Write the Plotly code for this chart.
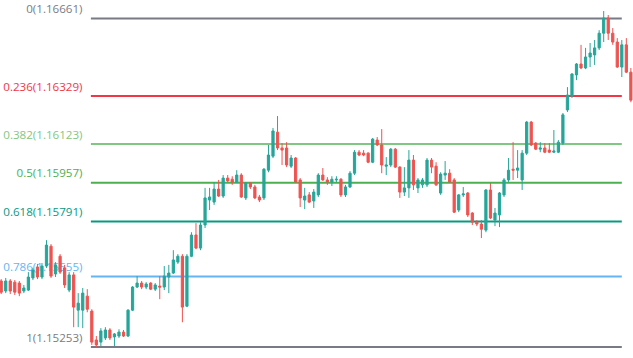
import plotly.graph_objects as go

# ---------------- data (EUR/USD-like candles) ----------------
open_ = [1.15536,1.15493,1.15536,1.15531,1.15527,1.15493,1.15497,1.15549,1.15596,1.15553,
         1.15600,1.15685,1.15566,1.15642,1.15592,1.15497,1.15562,1.15411,1.15411,1.15471,
         1.15407,1.15283,1.15274,1.15292,1.15326,1.15296,1.15300,1.15317,1.15300,1.15411,
         1.15510,1.15527,1.15510,1.15527,1.15501,1.15514,1.15510,1.15553,1.15570,1.15617,
         1.15642,1.15428,1.15642,1.15733,1.15677,1.15776,1.15883,1.15874,1.15930,1.15900,
         1.15977,1.15972,1.15960,1.15990,1.15892,1.15956,1.15939,1.15896,1.15892,1.16011,
         1.16071,1.16174,1.16106,1.16106,1.16028,1.16063,1.15969,1.15883,1.15905,1.15879,
         1.15905,1.15990,1.15969,1.15960,1.15969,1.15972,1.15905,1.15939,1.15998,1.16088,
         1.16084,1.16084,1.16045,1.16140,1.16119,1.16028,1.16033,1.16101,1.16024,1.15917,
         1.15935,1.16054,1.15935,1.15948,1.15948,1.16054,1.16028,1.15913,1.15990,1.15998,
         1.15969,1.15840,1.15905,1.15913,1.15827,1.15788,1.15780,1.15754,1.15926,1.15797,
         1.15819,1.15905,1.15969,1.16015,1.16011,1.15969,1.16084,1.16217,1.16127,1.16101,
         1.16106,1.16097,1.16088,1.16088,1.16127,1.16269,1.16328,1.16419,1.16466,1.16449,
         1.16496,1.16505,1.16535,1.16598,1.16663,1.16598,1.16560,1.16453,1.16548,1.16431]
high = [1.15544,1.15549,1.15544,1.15540,1.15536,1.15519,1.15574,1.15592,1.15609,1.15613,
        1.15711,1.15694,1.15617,1.15651,1.15605,1.15574,1.15574,1.15484,1.15506,1.15501,
        1.15415,1.15300,1.15334,1.15338,1.15334,1.15313,1.15329,1.15326,1.15415,1.15514,
        1.15557,1.15536,1.15531,1.15531,1.15527,1.15557,1.15600,1.15605,1.15668,1.15651,
        1.15651,1.15651,1.15745,1.15784,1.15788,1.15935,1.15935,1.15960,1.15969,1.15990,
        1.15990,1.15985,1.16011,1.15998,1.15960,1.15960,1.15948,1.15905,1.16020,1.16119,
        1.16192,1.16243,1.16127,1.16131,1.16076,1.16067,1.15977,1.15935,1.15917,1.15930,
        1.15998,1.16020,1.15981,1.15985,1.15985,1.15977,1.15948,1.16007,1.16097,1.16097,
        1.16097,1.16088,1.16149,1.16153,1.16187,1.16067,1.16106,1.16106,1.16028,1.16024,
        1.16097,1.16076,1.15977,1.15977,1.16063,1.16063,1.16045,1.16002,1.16050,1.16015,
        1.15977,1.15909,1.15939,1.15917,1.15831,1.15797,1.15797,1.15930,1.15956,1.15849,
        1.15917,1.15977,1.16063,1.16131,1.16097,1.16097,1.16222,1.16222,1.16131,1.16131,
        1.16127,1.16127,1.16183,1.16140,1.16256,1.16367,1.16427,1.16470,1.16548,1.16535,
        1.16556,1.16569,1.16611,1.16693,1.16676,1.16620,1.16577,1.16569,1.16577,1.16449]
low = [1.15480,1.15484,1.15480,1.15476,1.15471,1.15484,1.15493,1.15540,1.15544,1.15544,
       1.15592,1.15549,1.15553,1.15566,1.15506,1.15488,1.15338,1.15338,1.15334,1.15402,
       1.15262,1.15253,1.15257,1.15283,1.15283,1.15257,1.15292,1.15296,1.15296,1.15407,
       1.15506,1.15501,1.15501,1.15497,1.15493,1.15458,1.15497,1.15484,1.15566,1.15609,
       1.15359,1.15424,1.15638,1.15672,1.15668,1.15763,1.15840,1.15862,1.15896,1.15892,
       1.15960,1.15948,1.15956,1.15892,1.15883,1.15930,1.15887,1.15874,1.15883,1.16002,
       1.16063,1.16097,1.16033,1.16024,1.16020,1.15956,1.15853,1.15844,1.15870,1.15849,
       1.15896,1.15965,1.15948,1.15943,1.15960,1.15896,1.15896,1.15935,1.15990,1.16071,
       1.16071,1.16041,1.16041,1.16114,1.15998,1.15990,1.16024,1.16020,1.15892,1.15900,
       1.15892,1.15926,1.15913,1.15935,1.15939,1.15998,1.15943,1.15905,1.15969,1.15956,
       1.15827,1.15831,1.15896,1.15810,1.15776,1.15771,1.15720,1.15745,1.15801,1.15771,
       1.15767,1.15896,1.15960,1.15969,1.15977,1.15926,1.16076,1.16114,1.16097,1.16088,
       1.16084,1.16084,1.16084,1.16084,1.16119,1.16260,1.16320,1.16397,1.16444,1.16444,
       1.16453,1.16462,1.16526,1.16560,1.16569,1.16548,1.16449,1.16410,1.16427,1.16302]
close = [1.15488,1.15536,1.15493,1.15488,1.15484,1.15506,1.15553,1.15583,1.15553,1.15600,
         1.15690,1.15557,1.15605,1.15574,1.15519,1.15562,1.15424,1.15441,1.15484,1.15415,
         1.15274,1.15262,1.15322,1.15326,1.15292,1.15309,1.15317,1.15300,1.15411,1.15510,
         1.15527,1.15510,1.15523,1.15501,1.15519,1.15510,1.15557,1.15570,1.15626,1.15642,
         1.15424,1.15642,1.15733,1.15677,1.15776,1.15892,1.15896,1.15930,1.15900,1.15977,
         1.15965,1.15960,1.15990,1.15896,1.15956,1.15939,1.15892,1.15883,1.16015,1.16076,
         1.16179,1.16106,1.16097,1.16033,1.16063,1.15960,1.15892,1.15900,1.15874,1.15917,
         1.15990,1.15969,1.15960,1.15972,1.15972,1.15905,1.15939,1.15998,1.16088,1.16076,
         1.16076,1.16045,1.16144,1.16119,1.16033,1.16033,1.16101,1.16024,1.15917,1.15935,
         1.16054,1.15948,1.15969,1.15969,1.16054,1.16024,1.15948,1.15994,1.15998,1.15960,
         1.15831,1.15905,1.15909,1.15819,1.15788,1.15780,1.15758,1.15926,1.15806,1.15827,
         1.15913,1.15969,1.16011,1.16011,1.16020,1.16084,1.16217,1.16119,1.16101,1.16106,
         1.16088,1.16088,1.16093,1.16131,1.16248,1.16333,1.16423,1.16466,1.16449,1.16496,
         1.16513,1.16535,1.16598,1.16663,1.16598,1.16560,1.16453,1.16548,1.16431,1.16311]
bar_index = list(range(len(close)))

fib_ratios = ["0", "0.236", "0.382", "0.5", "0.618", "0.786", "1"]
fib_prices = [1.16661, 1.16329, 1.16123, 1.15957, 1.15791, 1.15555, 1.15253]
fib_colors = ["#787b86", "#f23645", "#81c784", "#4caf50", "#089981", "#64b5f6", "#787b86"]
fib_start_bar = 19.8
fib_end_bar = 137.0

# ---------------- layout constants ----------------
W, H = 633, 358
X_RANGE = [-0.265, 139.47]
Y_RANGE = [1.152059, 1.167403]
px_x = (X_RANGE[1] - X_RANGE[0]) / W
px_y = (Y_RANGE[1] - Y_RANGE[0]) / H
LABEL_RIGHT_PX = 82.5
LABEL_UP_PX = 8.2

fig = go.Figure()

# fib lines and labels on the base axes (drawn below the candles)
for r, p, c in zip(fib_ratios, fib_prices, fib_colors):
    fig.add_trace(go.Scatter(
        x=[fib_start_bar, fib_end_bar], y=[p, p], mode="lines",
        line=dict(color=c, width=2), hoverinfo="skip", showlegend=False,
        xaxis="x", yaxis="y"))
    fig.add_trace(go.Scatter(
        x=[X_RANGE[0] + LABEL_RIGHT_PX * px_x], y=[p + LABEL_UP_PX * px_y],
        mode="text", text=[f"{r}({p:.5f})"], textposition="middle left",
        textfont=dict(family="Open Sans", size=11.6, color=c),
        hoverinfo="skip", showlegend=False, xaxis="x", yaxis="y"))

fig.add_trace(go.Candlestick(
    x=bar_index, open=open_, high=high, low=low, close=close,
    increasing=dict(line=dict(color="#26a69a", width=1), fillcolor="#26a69a"),
    decreasing=dict(line=dict(color="#ef5350", width=1), fillcolor="#ef5350"),
    showlegend=False, xaxis="x2", yaxis="y2"))

fig.update_layout(
    width=W, height=H, autosize=False,
    margin=dict(l=0, r=0, t=0, b=0),
    paper_bgcolor="white", plot_bgcolor="white",
    xaxis=dict(range=X_RANGE, visible=False, rangeslider=dict(visible=False), fixedrange=True),
    yaxis=dict(range=Y_RANGE, visible=False, fixedrange=True),
    xaxis2=dict(range=X_RANGE, visible=False, overlaying="x", rangeslider=dict(visible=False)),
    yaxis2=dict(range=Y_RANGE, visible=False, overlaying="y"),
    showlegend=False,
)

fig.write_html("out.html")
